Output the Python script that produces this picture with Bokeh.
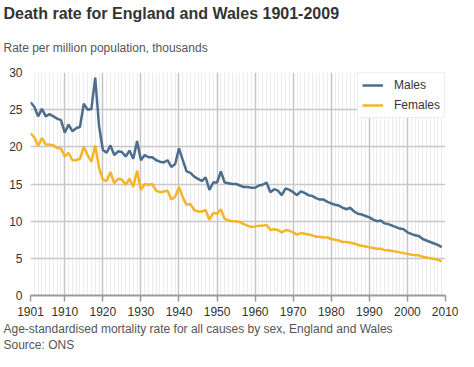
from bokeh.plotting import figure
from bokeh.models import Range1d, FixedTicker, Title, Legend
from bokeh.embed import file_html
from bokeh.resources import INLINE

years = list(range(1901, 2010))
males = [26.0, 25.4, 24.1, 25.1, 24.1, 24.4, 24.1, 23.8, 23.6, 21.9,
         23.0, 22.1, 22.5, 22.7, 25.8, 25.0, 25.1, 29.3, 22.8, 19.6,
         19.2, 20.2, 18.9, 19.4, 19.3, 18.7, 19.5, 18.4, 20.8, 18.2,
         18.9, 18.6, 18.6, 18.2, 18.0, 17.9, 18.2, 17.3, 17.7, 19.8,
         18.2, 16.7, 16.5, 16.0, 15.7, 15.4, 15.9, 14.2, 15.2, 15.2,
         16.7, 15.2, 15.1, 15.0, 15.0, 14.8, 14.6, 14.6, 14.5, 14.5,
         14.8, 14.9, 15.2, 13.9, 14.3, 14.1, 13.5, 14.4, 14.2, 13.9,
         13.5, 14.0, 13.8, 13.5, 13.4, 13.1, 12.9, 12.9, 12.6, 12.4,
         12.2, 12.1, 11.8, 11.6, 11.8, 11.3, 11.0, 10.9, 10.7, 10.5,
         10.2, 10.0, 10.1, 9.7, 9.6, 9.4, 9.2, 9.0, 8.9, 8.5,
         8.3, 8.1, 8.0, 7.6, 7.4, 7.2, 7.0, 6.8, 6.5]
females = [21.8, 21.3, 20.1, 21.2, 20.3, 20.3, 20.2, 19.8, 19.8, 18.7,
           19.2, 18.2, 18.2, 18.4, 20.0, 18.9, 18.0, 20.2, 17.2, 15.6,
           15.4, 16.6, 15.1, 15.7, 15.6, 14.9, 15.7, 14.6, 16.8, 14.2,
           15.0, 14.9, 15.0, 14.1, 13.9, 14.0, 14.1, 12.9, 13.3, 14.6,
           13.2, 12.2, 12.3, 11.5, 11.3, 11.3, 11.5, 10.2, 11.1, 11.0,
           11.6, 10.3, 10.1, 10.0, 10.0, 9.9, 9.6, 9.4, 9.2, 9.3,
           9.4, 9.4, 9.5, 8.8, 8.9, 8.8, 8.5, 8.8, 8.7, 8.5,
           8.2, 8.4, 8.3, 8.2, 8.1, 7.9, 7.9, 7.8, 7.8, 7.6,
           7.5, 7.4, 7.2, 7.2, 7.1, 7.0, 6.8, 6.7, 6.6, 6.5,
           6.4, 6.3, 6.3, 6.1, 6.1, 6.0, 5.9, 5.8, 5.7, 5.6,
           5.5, 5.4, 5.4, 5.2, 5.1, 5.0, 4.9, 4.8, 4.6]
x_ticks = [1901, 1910, 1920, 1930, 1940, 1950, 1960, 1970, 1980, 1990, 2000, 2010]
x_minor = list(range(1901, 2011))
y_ticks = [0, 5, 10, 15, 20, 25, 30]
series_names = ["Males", "Females"]

title_text = "Death rate for England and Wales 1901-2009"
subtitle_text = "Rate per million population, thousands"
note_text = "Age-standardised mortality rate for all causes by sex, England and Wales"
source_text = "Source: ONS"

FONT = "Liberation Sans"
MALE_C = "#4d6d8d"
FEMALE_C = "#f5b526"

p = figure(width=458, height=351, output_backend="svg", toolbar_location=None,
           x_range=Range1d(1901, 2010), y_range=Range1d(0, 30),
           min_border_left=30, min_border_right=13, min_border_top=72,
           min_border_bottom=56)
p.outline_line_color = None
p.background_fill_color = "white"
p.border_fill_color = "white"
p.title = None

xt = FixedTicker(ticks=x_ticks, minor_ticks=x_minor)
yt = FixedTicker(ticks=y_ticks)
p.xaxis.ticker = xt
p.yaxis.ticker = yt
p.xgrid.ticker = xt
p.ygrid.ticker = yt

p.xgrid.grid_line_color = "#c4c4c4"
p.xgrid.grid_line_width = 1.5
p.xgrid.minor_grid_line_color = "#ececec"
p.xgrid.minor_grid_line_width = 1
p.ygrid.grid_line_color = "#c8c8c8"
p.ygrid.grid_line_width = 1.5

for ax in (p.xaxis[0], p.yaxis[0]):
    ax.major_label_text_font = FONT
    ax.major_label_text_font_size = "12px"
    ax.major_label_text_color = "#333333"
    ax.minor_tick_line_color = None

p.yaxis.axis_line_color = None
p.yaxis.major_tick_line_color = None
p.yaxis.major_tick_in = 0
p.yaxis.major_tick_out = 0
p.yaxis.major_label_standoff = 8

p.xaxis.axis_line_color = "#9a9a9a"
p.xaxis.axis_line_width = 2
p.xaxis.major_tick_line_color = "#9a9a9a"
p.xaxis.major_tick_line_width = 1.5
p.xaxis.major_tick_in = 0
p.xaxis.major_tick_out = 6
p.xaxis.major_label_standoff = 5

r_m = p.line(years, males, line_color=MALE_C, line_width=2.5)
r_f = p.line(years, females, line_color=FEMALE_C, line_width=2.5)

legend = Legend(items=[(series_names[0], [r_m]), (series_names[1], [r_f])],
                location="top_right", margin=0, padding=4, spacing=4,
                glyph_width=21, glyph_height=16, label_height=16,
                label_standoff=11, label_text_font=FONT,
                label_text_font_size="12px", label_text_color="#333333",
                border_line_color="#dddddd", background_fill_color="white",
                background_fill_alpha=1)
p.add_layout(legend)

def ttl(text, place, size, bold=False, color="#555555", standoff=0):
    t = Title(text=text, align="left", offset=-27, standoff=standoff,
              text_font=FONT, text_font_size=size,
              text_font_style="bold" if bold else "normal", text_color=color)
    p.add_layout(t, place)

ttl(subtitle_text, "above", "12px", standoff=35)
ttl(title_text, "above", "16px", bold=True, color="#333333", standoff=0)
ttl(note_text, "below", "12px", standoff=2)
ttl(source_text, "below", "12px", standoff=-2)

open("out.html", "w").write(file_html(p, INLINE))
